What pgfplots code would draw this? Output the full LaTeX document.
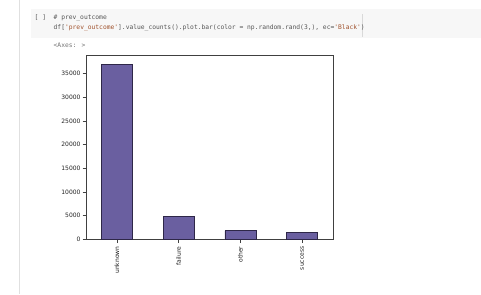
\documentclass[border=0pt]{standalone}
\usepackage{pgfplots}
\pgfplotsset{compat=1.18}
\usepackage{fontspec}
\setmainfont{DejaVu Sans}
\newfontfamily\codefont{DejaVu Sans Mono}
\definecolor{barfill}{HTML}{6A5FA0}
\definecolor{baredge}{HTML}{2E2748}
\definecolor{cellbg}{HTML}{F7F7F7}
\definecolor{codegray}{HTML}{555555}
\definecolor{codestr}{HTML}{A0522D}
\definecolor{ticktext}{HTML}{222222}
\begin{document}
\begin{tikzpicture}[x=1pt,y=1pt]
\fill[white] (0,0) rectangle (481,-293);
\draw[color=black!12, line width=1pt] (19.5,0) -- (19.5,-293);
\fill[cellbg] (31,-9) rectangle (481,-38);
\draw[color=black!15, line width=0.6pt] (362,-14) -- (362,-37);
\node[anchor=west, inner sep=0pt, font=\codefont\fontsize{6.3}{7}\selectfont, text=codegray] at (34.5,-17.3) {[ ]};
\node[anchor=west, inner sep=0pt, font=\codefont\fontsize{6.3}{7}\selectfont, text=codegray] at (53.5,-17.3) {\# prev\_outcome};
\node[anchor=west, inner sep=0pt, font=\codefont\fontsize{6.3}{7}\selectfont, text=codegray] at (53.5,-27.8) {df[\textcolor{codestr}{'prev\_outcome'}].value\_counts().plot.bar(color = np.random.rand(3,), ec=\textcolor{codestr}{'Black'})};
\node[anchor=west, inner sep=0pt, font=\codefont\fontsize{6.3}{7}\selectfont, text=black!55] at (53.5,-45) {<Axes: >};
\begin{axis}[
  at={(86pt,-239pt)}, anchor=south west,
  scale only axis, width=247pt, height=184pt,
  xmin=-0.5, xmax=3.5, ymin=0, ymax=38807,
  xtick={0,1,2,3},
  xticklabels={unknown,failure,other,success},
  x tick label style={rotate=90, anchor=east},
  ytick={0,5000,10000,15000,20000,25000,30000,35000},
  scaled y ticks=false,
  yticklabel style={/pgf/number format/1000 sep={}},
  /pgf/number format/assume math mode=true,
  tick label style={font=\fontsize{6}{7}\selectfont, text=ticktext},
  tick align=outside, xtick pos=bottom, ytick pos=left,
  major tick length=3.5pt,
  tick style={black!75, line width=0.6pt},
  axis line style={black!75, line width=0.6pt},
  xticklabel shift=0pt, yticklabel shift=-1.5pt,
]
\addplot[ybar, bar width=30.9pt, fill=barfill, draw=baredge, line width=0.6pt] coordinates {(0,36959) (1,4901) (2,1840) (3,1511)};
\end{axis}
\end{tikzpicture}
\end{document}
